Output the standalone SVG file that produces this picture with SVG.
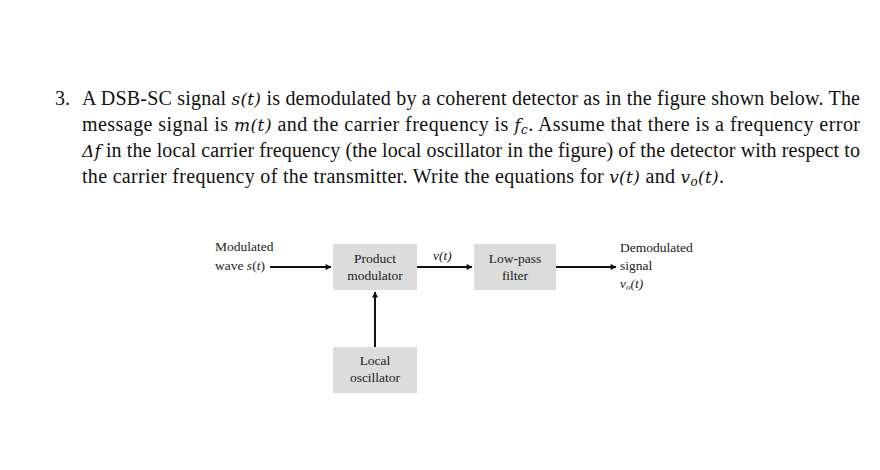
<svg xmlns="http://www.w3.org/2000/svg" width="880" height="470" viewBox="0 0 880 470">
<style>
.q{font-family:"Liberation Serif",serif;font-size:20px;fill:#111}
.m{font-family:"DejaVu Serif",serif;font-style:italic;font-size:17px}
.d{font-family:"Liberation Serif",serif;font-size:13.5px;fill:#222}
.box{fill:#dcdcdc}
.c{stroke:#111;stroke-width:2;fill:none;marker-end:url(#ah)}
</style>
<defs><marker id="ah" viewBox="0 0 10 10" refX="9" refY="5" markerWidth="9" markerHeight="6" orient="auto" markerUnits="userSpaceOnUse"><path d="M0,0L10,5L0,10z" fill="#111"/></marker></defs>
<rect width="880" height="470" fill="#fff"/>
<g id="question">
<text class="q" x="55" y="105">3.</text>
<text class="q" x="82" y="105" textLength="778" lengthAdjust="spacing">A DSB-SC signal <tspan class="m">s(t)</tspan> is demodulated by a coherent detector as in the figure shown below. The</text>
<text class="q" x="82" y="131" textLength="778" lengthAdjust="spacing">message signal is <tspan class="m">m(t)</tspan> and the carrier frequency is <tspan class="m">f<tspan font-size="12" dy="3">c</tspan></tspan><tspan dy="-3">. Assume that there is a frequency error</tspan></text>
<text class="q" x="82" y="157" textLength="778" lengthAdjust="spacing"><tspan class="m">Δf</tspan> in the local carrier frequency (the local oscillator in the figure) of the detector with respect to</text>
<text class="q" x="82" y="183" textLength="642" lengthAdjust="spacing">the carrier frequency of the transmitter. Write the equations for <tspan class="m">v(t)</tspan> and <tspan class="m">v<tspan font-size="12" dy="3">o</tspan></tspan><tspan class="m" dy="-3">(t)</tspan>.</text>
</g>
<g id="input-label"><text class="d" x="215" y="251">Modulated</text><text class="d" x="215" y="270">wave <tspan font-style="italic">s</tspan>(<tspan font-style="italic">t</tspan>)</text></g>
<g id="product"><rect class="box" x="333" y="244" width="84" height="46"/><text class="d" x="375" y="263" text-anchor="middle">Product</text><text class="d" x="375" y="280" text-anchor="middle">modulator</text></g>
<g id="lpf"><rect class="box" x="474" y="244" width="82" height="46"/><text class="d" x="515" y="263" text-anchor="middle">Low-pass</text><text class="d" x="515" y="280" text-anchor="middle">filter</text></g>
<g id="osc"><rect class="box" x="333" y="347" width="84" height="46"/><text class="d" x="375" y="365" text-anchor="middle">Local</text><text class="d" x="375" y="382" text-anchor="middle">oscillator</text></g>
<g id="v-label"><text class="d" x="433" y="260" font-style="italic">v(t)</text></g>
<g id="output-label"><text class="d" x="620" y="252">Demodulated</text><text class="d" x="620" y="270">signal</text><text class="d" x="620" y="288" font-style="italic">v<tspan font-size="9" dy="2">o</tspan><tspan dy="-2">(t)</tspan></text></g>
<g id="connectors">
<line class="c" x1="270" y1="267" x2="331" y2="267"/>
<line class="c" x1="417" y1="267" x2="472" y2="267"/>
<line class="c" x1="556" y1="267" x2="616" y2="267"/>
<line class="c" x1="375" y1="347" x2="375" y2="292"/>
</g>
</svg>
